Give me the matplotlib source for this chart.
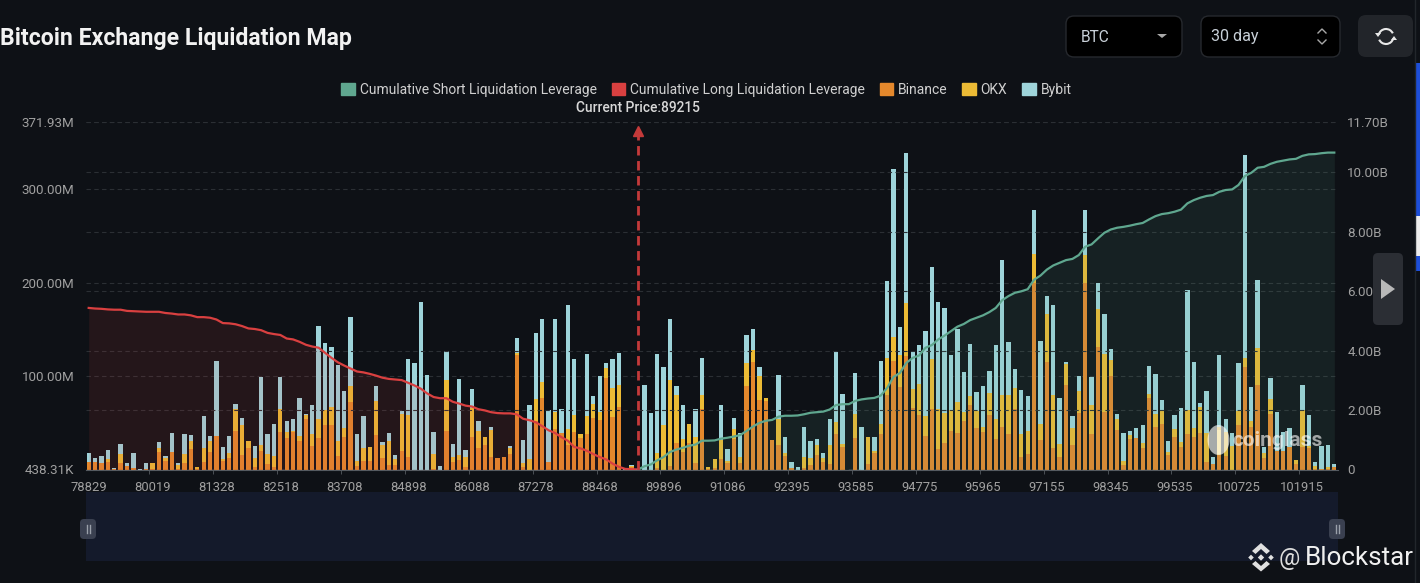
import numpy as np
import matplotlib
matplotlib.use("Agg")
import matplotlib.pyplot as plt
from matplotlib.patches import FancyBboxPatch, Rectangle, Polygon, Arc, Patch, Ellipse
from matplotlib.lines import Line2D

binance = [8.6,8,7,8,.7,7,4.3,1.8,.4,.7,.7,19.3,9,19,.7,7.9,22.5,1,8.6,19,36,9,13.2,41.8,16,23,3.6,20.3,6.4,3.6,40,34.6,40.4,30.4,54.6,26,34.6,48.2,48.2,15,35.7,72.9,4.3,9.3,9.6,36.8,
 13.2,5.4,5.4,20,14.3,0,0,0,.7,0,41.8,8.6,10.7,3.6,35.7,23.2,26.8,14.3,12.5,13.6,17.1,122.5,3.6,0,51.8,76.8,8.6,43.9,39.3,26.8,40.4,33.9,38.2,56,53.6,98,56.8,67.5,.2,2.9,0,0,0,2,0,
 4.3,28.6,19.6,29.3,7.1,65,.7,2.5,11.4,7,32.9,7.9,89.3,115,75,74,32,26.8,15,1.8,0,1.8,5.7,16,8.9,6.8,38.2,24.3,0,33.9,0,6.8,
 17.9,38.2,79.6,116.8,88.6,121.4,65.7,58.9,36.4,65.4,22.5,29.3,41.8,39.6,52.1,68.9,44.6,40,58.9,33.2,46.4,38.2,64.6,13.9,17.5,200,32.5,115.4,23.9,13.9,90.4,26.4,60.4,200,38.6,131.8,62,100.7,
 42.5,5.4,33.2,34.6,22.9,77,46.4,48.9,16,35.7,24.6,38.6,35,39.3,8.6,6.4,16,15,0,48.2,110.4,45.7,90.7,12.5,60,20.4,20.4,24.3,6,25,23.2,.7,.7,.7,3.6]
okx = [0,0,0,3.5,0,10,0,0,0,0,6.8,3.6,3.5,0,4.6,9.6,8.9,1.8,14.6,11.4,0,2.5,4.6,23.2,31.5,8.2,9.6,6.1,10.4,11.8,25,6.4,.7,5.4,4.3,12.9,19.3,15.4,18.6,16.1,9.6,17.1,5,13.9,15,37.1,
 13.9,25,6.1,39.6,44,0,0,0,16.8,0,54,5,5.4,10.7,30.4,18.2,8.6,27.9,0,0,6.4,2.5,4.3,11.8,23.9,16.8,0,17.9,0,16.8,18.2,4.3,19.6,14.6,8.6,11.4,30.7,22.9,0,1.4,0,0,0,15.7,47.5,
 91.4,51.8,13.6,20,27.9,14.6,2.9,9.6,20.7,2.1,10.7,5.4,24.6,12.9,25.7,2.9,0,27.5,2.9,0,0,11.8,7.1,10.4,3.6,19.6,13.2,3.6,0,26.4,0,28.3,
 2.5,11,40.4,25,34.3,57,20.4,32.9,21,53.2,42.5,31.4,22.5,33.2,9.6,10.4,17.9,5.4,22.9,20.7,33.6,41.4,22.9,24.6,24.6,31,16.8,51.4,55.7,13.9,22.5,17.9,24.3,29.3,30.7,40.7,61.4,17,
 11.8,3.6,4.3,0,6.4,4.3,13.9,13.6,3.6,7.5,5,25.4,9.6,28.2,30.7,0,30,25,26,14.3,9.3,6.4,39.6,6,15.4,0,0,0,4.4,38.6,2.5,3.6,0,2.9,0]
bybit = [10,4.6,8,9.6,1.8,10.4,3.6,16.4,1,6.5,0,7,2.9,20,2.2,21.4,6,0,34.3,5.7,80,13.2,18.6,5,7.5,0,12.8,72.5,22.1,33.6,34,11.8,13.2,41,1.4,30.7,100,72.1,64.3,81,39.3,73.2,28.6,34.3,0,15.7,
 2.5,8.6,4.3,3.2,60.7,114,180,101.8,22.5,4.6,31,14.6,80.7,7,20.4,10.7,0,3.9,0,0,2.1,16.4,24.6,57.5,70.7,67.5,55,100,26,132.5,60.4,0,66,8.6,38.6,5.4,31,35,.3,.7,0,90.4,60.4,106,62.5,
 66,8.9,36.4,0,30,39.6,0,0,37.5,13.2,11.8,26,30.7,23.2,9.3,0,0,47,16.8,6.8,3.6,32,18.6,6.8,5.7,28.2,74.3,53.2,0,43.2,45.4,0,
 15.3,66.8,81.8,180,30,160.7,40.7,42,91.4,98.6,114,112.5,59,77.5,42.9,55,20.7,43.9,23.6,80,143.9,57.5,20,46.8,36.8,46.4,88.9,18.6,96.8,48.9,2.1,13.2,15.7,48.9,29.6,27,43.2,11.8,
 5,30.4,4.3,10.4,18.2,30,41.8,12.5,11,16,36.4,128,70.7,4.3,45.4,7.1,77,14.3,13.6,51.4,217,36,73.2,5.7,23.2,42,20.4,20.4,0,27.5,33.2,4.3,25,22.9,3.2]

cum_long = [5.44,5.42,5.41,5.39,5.38,5.38,5.34,5.33,5.32,5.31,5.31,5.31,5.27,5.25,5.22,5.22,5.19,5.13,5.13,5.11,5.05,4.93,4.92,4.89,4.83,4.75,4.73,4.69,4.60,4.56,4.53,4.41,
 4.38,4.30,4.20,4.14,4.10,3.93,3.76,3.61,3.50,3.40,3.30,3.27,3.22,3.16,
 3.09,3.05,3.03,3.01,2.92,2.83,2.72,2.56,2.44,2.40,2.40,2.28,2.22,2.15,2.12,2.03,1.99,1.93,1.90,1.89,1.89,1.86,1.71,1.66,1.59,1.46,1.32,1.23,1.09,0.97,0.76,0.71,0.63,0.52,0.42,0.34,0.20,0.09,0.02,0.01,0.0]
cum_short = [0,.11,.17,.31,.42,.59,.67,.73,.80,.84,.97,.97,.98,1.04,1.07,1.11,1.16,1.30,1.45,1.57,1.64,1.67,1.78,1.81,1.81,1.82,1.86,1.91,1.93,1.95,2.02,2.17,2.20,2.20,2.31,2.36,2.39,
 2.41,2.49,2.75,3.12,3.25,3.59,3.76,3.84,4.10,4.19,4.38,4.51,4.66,4.81,4.90,5.03,5.11,5.19,5.30,5.44,5.70,5.84,5.95,6.00,6.07,6.39,6.53,6.73,6.87,6.96,7.05,7.09,7.22,7.50,7.58,7.78,7.97,8.08,
 8.14,8.17,8.21,8.26,8.30,8.42,8.53,8.60,8.63,8.68,8.75,8.96,9.07,9.15,9.21,9.24,9.35,9.41,9.43,9.58,9.88,9.99,10.16,10.19,10.29,10.36,10.40,10.44,10.46,10.56,10.61,10.62,10.65,10.67,10.67]

price_labels = ["78829","80019","81328","82518","83708","84898","86088","87278","88468","89896",
                "91086","92395","93585","94775","95965","97155","98345","99535","100725","101915"]
left_ticks = [0.43831, 100, 200, 300, 371.93]
left_labels = ["438.31K", "100.00M", "200.00M", "300.00M", "371.93M"]
right_ticks = [0, 2, 4, 6, 8, 10, 11.7]
right_labels = ["0", "2.00B", "4.00B", "6.00B", "8.00B", "10.00B", "11.70B"]
current_index = 86
current_price = 89215

BG = "#0e1116"
C_B, C_O, C_Y = "#e4882c", "#ecbb35", "#9ed4da"
C_L, C_S = "#d94040", "#5fa78f"
TXT = "#a0a0a0"
GRID = "#2b2f34"
FONT = "Roboto"
plt.rcParams["font.family"] = FONT

W, H = 1420, 583
fig = plt.figure(figsize=(W/100, H/100), dpi=100, facecolor=BG)
L, R, T, B = 85.5, 1337.5, 122, 469.5
ax = fig.add_axes([L/W, 1-B/H, (R-L)/W, (B-T)/H], facecolor=BG)

b, o, y = np.array(binance), np.array(okx), np.array(bybit)
n = len(b)
x = np.arange(n)
ax.bar(x, b, 0.68, color=C_B, zorder=2)
ax.bar(x, o, 0.68, bottom=b, color=C_O, zorder=2)
ax.bar(x, y, 0.68, bottom=b+o, color=C_Y, zorder=2)
ax.set_xlim(-0.5, n-0.5)
ax.set_ylim(0.43831, 371.93)
ax.set_yticks(left_ticks, left_labels)
ax.set_xticks(x[::10], price_labels)
ax.set_xticks(x[::10][1:]-0.5, minor=True)
ax.tick_params(axis="y", length=0, colors=TXT, labelsize=9.6, pad=8)
ax.tick_params(axis="x", which="major", length=0, colors=TXT, labelsize=9.4, pad=8)
ax.tick_params(axis="x", which="minor", length=3, color="#555a60")
ax.grid(axis="y", color=GRID, ls=(0, (4, 3)), lw=0.8, zorder=0)
for s in ["top", "left", "right"]:
    ax.spines[s].set_visible(False)
ax.spines["bottom"].set_color("#555a60")
ax.spines["bottom"].set_linewidth(0.8)

ax2 = ax.twinx()
ax2.set_zorder(ax.get_zorder()+1)
ax2.patch.set_visible(False)
ax2.set_ylim(0, 11.7)
ax2.set_yticks(right_ticks, right_labels)
ax2.tick_params(axis="y", length=0, colors=TXT, labelsize=9.6, pad=7)
ax2.grid(axis="y", color=GRID, ls=(0, (4, 3)), lw=0.8, zorder=0)
for s in ax2.spines.values():
    s.set_visible(False)
xl = x[:len(cum_long)]
xs = x[current_index:]
ax2.fill_between(xl, cum_long, color=C_L, alpha=0.11, lw=0, zorder=3)
ax2.fill_between(xs, cum_short, color=C_S, alpha=0.11, lw=0, zorder=3)
ax2.plot(xl, cum_long, color=C_L, lw=1.6, zorder=4)
ax2.plot(xs, cum_short, color=C_S, lw=1.6, zorder=4)

# current price marker
tr = ax2.get_xaxis_transform()
ax2.plot([current_index, current_index], [0, 0.965], transform=tr, color="#c43a3a",
         lw=2, ls=(0, (3.4, 2)), zorder=5)
ax2.plot([current_index], [0.975], transform=tr, marker="^", ms=7.5, color="#c43a3a", zorder=5, clip_on=False)
ax2.annotate(f"Current Price:{current_price}", xy=(current_index, 1), xycoords=tr,
             xytext=(0, 10), textcoords="offset points", ha="center", va="center",
             color="#d8d8d8", fontsize=9.9, fontweight="medium", annotation_clip=False)

# legend
handles = [Patch(color=C_S), Patch(color=C_L), Patch(color=C_B), Patch(color=C_O), Patch(color=C_Y)]
names = ["Cumulative Short Liquidation Leverage", "Cumulative Long Liquidation Leverage", "Binance", "OKX", "Bybit"]
leg = fig.legend(handles, names, ncol=5, loc="center", bbox_to_anchor=(706.5/W, 1-90/H), frameon=False,
                 fontsize=10, labelcolor="#d0d0d0", handlelength=0.95, handleheight=0.95,
                 handletextpad=0.36, columnspacing=1.08, borderpad=0)

# page furniture, in pixel coordinates
ui = fig.add_axes([0, 0, 1, 1], facecolor="none", zorder=10)
ui.set_xlim(0, W); ui.set_ylim(H, 0); ui.axis("off")
def box(x0, y0, x1, y1, fc, ec="none", r=8, lw=1, **kw):
    ui.add_patch(FancyBboxPatch((x0+r, y0+r), x1-x0-2*r, y1-y0-2*r, boxstyle=f"round,pad={r}",
                                fc=fc, ec=ec, lw=lw, **kw))
ui.text(0, 39, "Bitcoin Exchange Liquidation Map", color="#f2f2f2", fontsize=16.6,
        fontweight="bold", va="center", ha="left")
box(1066, 16, 1182, 57, "#000000", "#26292e")
box(1201, 16, 1340, 57, "#000000", "#26292e")
box(1358, 15, 1413, 57, "#22252a")
ui.text(1081, 37, "BTC", color="#c8d0d8", fontsize=11.2, va="center")
ui.text(1211, 37, "30 day", color="#c8d0d8", fontsize=11.6, va="center")
ui.add_patch(Polygon([(1157, 34), (1167, 34), (1162, 38)], fc="#a8a8a8"))
ui.plot([1318, 1322, 1326], [33, 29, 33], color="#a8a8a8", lw=1)
ui.plot([1318, 1322, 1326], [40, 44, 40], color="#a8a8a8", lw=1)
ui.add_patch(Arc((1386, 36.5), 15, 15, theta1=195, theta2=335, color="#e8e8e8", lw=1.5))
ui.add_patch(Arc((1386, 36.5), 15, 15, theta1=15, theta2=155, color="#e8e8e8", lw=1.5))
ui.add_patch(Polygon([(1375, 33), (1381, 33), (1378, 37)], fc="#e8e8e8"))
ui.add_patch(Polygon([(1391, 40), (1397, 40), (1394, 36)], fc="#e8e8e8"))
box(1373, 253, 1403, 325, "#2b2e34", r=5)
ui.add_patch(Polygon([(1381, 279), (1381, 299), (1395, 289)], fc="#b8b8b8"))
ui.add_patch(Rectangle((86, 492), 1252, 69, fc="#141a2b", ec="none"))
for hx in (88, 1337):
    box(hx-8, 519, hx+8, 539, "#3a4050", r=4)
    ui.plot([hx-1.5, hx-1.5], [525, 533], color="#9aa0aa", lw=1)
    ui.plot([hx+1.5, hx+1.5], [525, 533], color="#9aa0aa", lw=1)
# side of the screenshot
ui.plot([1415, 1415], [0, H], color="#22262b", lw=1)
ui.add_patch(Rectangle((1415.5, 63), 4.5, 153, fc="#1d4ed8"))
ui.add_patch(Rectangle((1415.5, 216), 4.5, 40, fc="#ececec"))
ui.add_patch(Rectangle((1415.5, 256), 4.5, 15, fc="#1d4ed8"))
# coinglass watermark
ui.text(1232, 441, "coinglass", color="#ffffff", alpha=0.6, fontsize=15, fontweight="bold", va="center")
ui.add_patch(Ellipse((1218.5, 440), 22, 30, fc="#ffffff", alpha=0.62, lw=0))
ui.add_patch(Rectangle((1217, 430), 4, 24, fc="#fff6d0", alpha=0.6, lw=0))
# Blockstar mark
ui.text(1279, 558, "@", color="#dcdcdc", fontsize=17, va="center")
ui.text(1305, 558, "Blockstar", color="#f0f0f0", fontsize=18.7, va="center")
ui.add_patch(Polygon([(1252, 551), (1261, 543), (1270, 551), (1266.5, 554), (1261, 549), (1255.5, 554)], fc="#e0e0e0"))
ui.add_patch(Polygon([(1252, 564), (1261, 571.5), (1270, 564), (1266.5, 561), (1261, 566), (1255.5, 561)], fc="#e0e0e0"))
for cx, cy, s in [(1251, 557.5, 2.8), (1271, 557.5, 2.8), (1261, 557.5, 3.2)]:
    ui.add_patch(Polygon([(cx-s, cy), (cx, cy-s), (cx+s, cy), (cx, cy+s)], fc="#e0e0e0"))

fig.savefig("out.png", dpi=100, facecolor=BG)
